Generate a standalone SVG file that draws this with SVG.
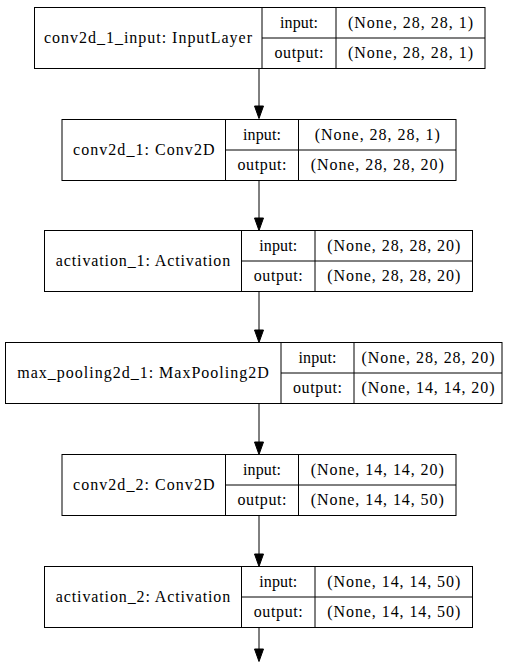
<svg xmlns="http://www.w3.org/2000/svg" width="517" height="665" viewBox="0 0 517 665">
<defs>
<style>
.b{fill:#fff;stroke:#000;stroke-width:1}
.l{stroke:#000;stroke-width:1;fill:none}
.t text{font-size:16px;fill:#000;text-anchor:middle}
.e{stroke:#000;stroke-width:1;fill:none}
.h{fill:#000;stroke:#000;stroke-width:1}
</style>
</defs>
<rect width="517" height="665" fill="#fff"/>
<g id="connectors">
<line class="e" x1="259" y1="68.5" x2="259" y2="107"/>
<polygon class="h" points="254.5,106 263.5,106 259,118.5"/>
<line class="e" x1="259" y1="180.5" x2="259" y2="219"/>
<polygon class="h" points="254.5,218 263.5,218 259,230.5"/>
<line class="e" x1="259" y1="291.5" x2="259" y2="331"/>
<polygon class="h" points="254.5,330 263.5,330 259,342.5"/>
<line class="e" x1="259" y1="403.5" x2="259" y2="443"/>
<polygon class="h" points="254.5,442 263.5,442 259,454.5"/>
<line class="e" x1="259" y1="515.5" x2="259" y2="555"/>
<polygon class="h" points="254.5,554 263.5,554 259,566.5"/>
<line class="e" x1="259" y1="627.5" x2="259" y2="650"/>
<polygon class="h" points="254.5,649 263.5,649 259,661.5"/>
</g>
<g class="t" font-family="Liberation Serif, Times New Roman, serif">
<g id="conv2d_1_input">
<rect class="b" x="34.5" y="7.5" width="450.5" height="61"/>
<line class="l" x1="262" y1="7.5" x2="262" y2="68.5"/>
<line class="l" x1="336" y1="7.5" x2="336" y2="68.5"/>
<line class="l" x1="262" y1="38" x2="485" y2="38"/>
<text x="148" y="43" textLength="208" lengthAdjust="spacing">conv2d_1_input: InputLayer</text>
<text x="299" y="27.5" textLength="38" lengthAdjust="spacing">input:</text>
<text x="299" y="58" textLength="49" lengthAdjust="spacing">output:</text>
<text x="410.5" y="27.5" textLength="125" lengthAdjust="spacing">(None, 28, 28, 1)</text>
<text x="410.5" y="58" textLength="125" lengthAdjust="spacing">(None, 28, 28, 1)</text>
</g>
<g id="conv2d_1">
<rect class="b" x="62" y="119.5" width="394" height="61"/>
<line class="l" x1="225.5" y1="119.5" x2="225.5" y2="180.5"/>
<line class="l" x1="298.5" y1="119.5" x2="298.5" y2="180.5"/>
<line class="l" x1="225.5" y1="150" x2="456" y2="150"/>
<text x="143.75" y="155" textLength="141.5" lengthAdjust="spacing">conv2d_1: Conv2D</text>
<text x="262" y="139.5" textLength="38" lengthAdjust="spacing">input:</text>
<text x="262" y="170" textLength="49" lengthAdjust="spacing">output:</text>
<text x="377.25" y="139.5" textLength="125" lengthAdjust="spacing">(None, 28, 28, 1)</text>
<text x="377.25" y="170" textLength="133" lengthAdjust="spacing">(None, 28, 28, 20)</text>
</g>
<g id="activation_1">
<rect class="b" x="44.5" y="230.5" width="428" height="61"/>
<line class="l" x1="241.5" y1="230.5" x2="241.5" y2="291.5"/>
<line class="l" x1="315" y1="230.5" x2="315" y2="291.5"/>
<line class="l" x1="241.5" y1="261" x2="472.5" y2="261"/>
<text x="143" y="266" textLength="174.5" lengthAdjust="spacing">activation_1: Activation</text>
<text x="278.25" y="250.5" textLength="38" lengthAdjust="spacing">input:</text>
<text x="278.25" y="281" textLength="49" lengthAdjust="spacing">output:</text>
<text x="393.75" y="250.5" textLength="133" lengthAdjust="spacing">(None, 28, 28, 20)</text>
<text x="393.75" y="281" textLength="133" lengthAdjust="spacing">(None, 28, 28, 20)</text>
</g>
<g id="max_pooling2d_1">
<rect class="b" x="5.5" y="342.5" width="496.5" height="61"/>
<line class="l" x1="281" y1="342.5" x2="281" y2="403.5"/>
<line class="l" x1="354" y1="342.5" x2="354" y2="403.5"/>
<line class="l" x1="281" y1="373" x2="502" y2="373"/>
<text x="143" y="378" textLength="251.5" lengthAdjust="spacing">max_pooling2d_1: MaxPooling2D</text>
<text x="317.5" y="362.5" textLength="38" lengthAdjust="spacing">input:</text>
<text x="317.5" y="393" textLength="49" lengthAdjust="spacing">output:</text>
<text x="428" y="362.5" textLength="133" lengthAdjust="spacing">(None, 28, 28, 20)</text>
<text x="428" y="393" textLength="133" lengthAdjust="spacing">(None, 14, 14, 20)</text>
</g>
<g id="conv2d_2">
<rect class="b" x="62" y="454.5" width="394" height="61"/>
<line class="l" x1="225.5" y1="454.5" x2="225.5" y2="515.5"/>
<line class="l" x1="298.5" y1="454.5" x2="298.5" y2="515.5"/>
<line class="l" x1="225.5" y1="485" x2="456" y2="485"/>
<text x="143.75" y="490" textLength="141.5" lengthAdjust="spacing">conv2d_2: Conv2D</text>
<text x="262" y="474.5" textLength="38" lengthAdjust="spacing">input:</text>
<text x="262" y="505" textLength="49" lengthAdjust="spacing">output:</text>
<text x="377.25" y="474.5" textLength="133" lengthAdjust="spacing">(None, 14, 14, 20)</text>
<text x="377.25" y="505" textLength="133" lengthAdjust="spacing">(None, 14, 14, 50)</text>
</g>
<g id="activation_2">
<rect class="b" x="44.5" y="566.5" width="428" height="61"/>
<line class="l" x1="241.5" y1="566.5" x2="241.5" y2="627.5"/>
<line class="l" x1="315" y1="566.5" x2="315" y2="627.5"/>
<line class="l" x1="241.5" y1="597" x2="472.5" y2="597"/>
<text x="143" y="602" textLength="174.5" lengthAdjust="spacing">activation_2: Activation</text>
<text x="278.25" y="586.5" textLength="38" lengthAdjust="spacing">input:</text>
<text x="278.25" y="617" textLength="49" lengthAdjust="spacing">output:</text>
<text x="393.75" y="586.5" textLength="133" lengthAdjust="spacing">(None, 14, 14, 50)</text>
<text x="393.75" y="617" textLength="133" lengthAdjust="spacing">(None, 14, 14, 50)</text>
</g>
</g>
</svg>
